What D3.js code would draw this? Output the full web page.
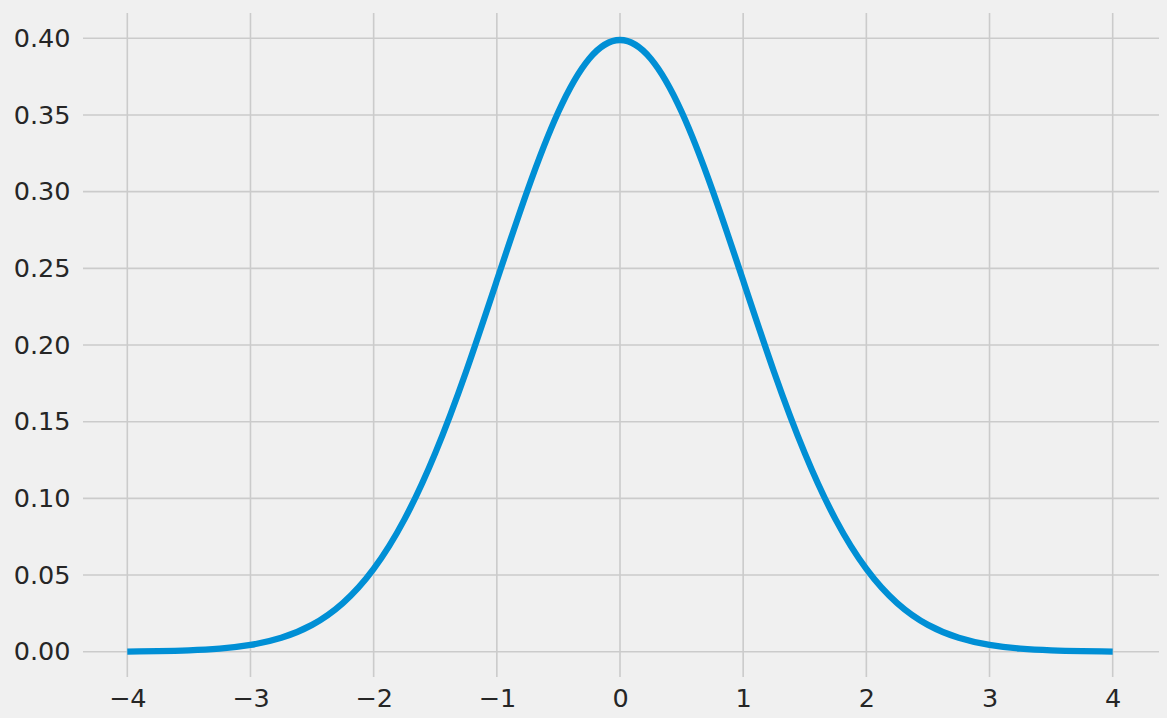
<!DOCTYPE html>
<html lang="en">
<head>
<meta charset="UTF-8">
<title>Normal distribution</title>
<script src="https://d3js.org/d3.v7.min.js"></script>
<style>
    html, body { margin: 0; padding: 0; background: #f0f0f0; }
    svg { display: block; }
    .tick text { font-family: "DejaVu Sans", sans-serif; font-size: 25.5px; fill: #262626; }
</style>
</head>
<body>
<script>
// values (density curve)
const xs = [-4, -3.75, -3.5, -3.25, -3, -2.75, -2.5, -2.25, -2, -1.75, -1.5, -1.25, -1, -0.75, -0.5, -0.25,
            0, 0.25, 0.5, 0.75, 1, 1.25, 1.5, 1.75, 2, 2.25, 2.5, 2.75, 3, 3.25, 3.5, 3.75, 4];
const ys = [0.0001, 0.0004, 0.0009, 0.0020, 0.0044, 0.0091, 0.0175, 0.0317, 0.0540, 0.0863, 0.1295, 0.1826,
            0.2420, 0.3011, 0.3521, 0.3867, 0.3989, 0.3867, 0.3521, 0.3011, 0.2420, 0.1826, 0.1295, 0.0863,
            0.0540, 0.0317, 0.0175, 0.0091, 0.0044, 0.0020, 0.0009, 0.0004, 0.0001];
const xTicks = [-4, -3, -2, -1, 0, 1, 2, 3, 4];
const yTicks = [0, 0.05, 0.10, 0.15, 0.20, 0.25, 0.30, 0.35, 0.40];

const width = 1167, height = 718;
const plot = {left: 83, right: 1159, top: 13, bottom: 677};

const x = d3.scaleLinear().domain([-4, 4]).range([127.3, 1112.7]);
const y = d3.scaleLinear().domain([0, 0.4]).range([651.7, 38.3]);

const svg = d3.select("body").append("svg")
    .attr("width", width)
    .attr("height", height);

svg.append("rect")
    .attr("width", width).attr("height", height)
    .attr("fill", "#f0f0f0");

// grid
const grid = svg.append("g").attr("stroke", "#cbcbcb").attr("stroke-width", 1.6);
grid.selectAll("line.v").data(xTicks).enter().append("line")
    .attr("x1", d => x(d)).attr("x2", d => x(d))
    .attr("y1", plot.top).attr("y2", plot.bottom);
grid.selectAll("line.h").data(yTicks).enter().append("line")
    .attr("y1", d => y(d)).attr("y2", d => y(d))
    .attr("x1", plot.left).attr("x2", plot.right);

// axes (labels only, no domain or tick marks)
const xAxis = svg.append("g")
    .attr("transform", `translate(0,${plot.bottom})`)
    .call(d3.axisBottom(x).tickValues(xTicks).tickSize(0).tickPadding(12).tickFormat(d3.format("d")));
const yAxis = svg.append("g")
    .attr("transform", `translate(${plot.left},0)`)
    .call(d3.axisLeft(y).tickValues(yTicks).tickSize(0).tickPadding(12.5).tickFormat(d3.format(".2f")));
svg.selectAll(".domain").remove();
svg.selectAll(".tick text").attr("font-family", null).attr("font-size", null);

// curve
const line = d3.line()
    .x((d, i) => x(xs[i]))
    .y(d => y(d))
    .curve(d3.curveNatural);

svg.append("path")
    .datum(ys)
    .attr("d", line)
    .attr("fill", "none")
    .attr("stroke", "#008fd5")
    .attr("stroke-width", 6.3)
    .attr("stroke-linejoin", "round");
</script>
</body>
</html>
